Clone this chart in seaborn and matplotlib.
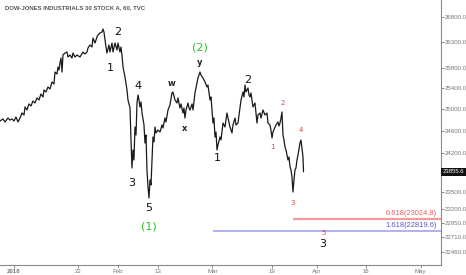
import numpy as np
import pandas as pd
import matplotlib
matplotlib.use("Agg")
import matplotlib.pyplot as plt
from matplotlib.ticker import FixedLocator, NullLocator, FuncFormatter
import seaborn as sns

# trading-day index (0 = 2 Jan 2018) and price
day = [-2.82, -2.22, -1.81, -1.21, -0.81, -0.40, 0.00, 0.40, 0.81, 1.21, 1.61, 2.02, 2.22, 2.62, 3.02,
       3.43, 3.83, 4.23, 4.64, 5.04, 5.44, 5.85, 6.05, 6.45, 6.85, 7.26, 7.66, 8.06, 8.27, 8.67,
       8.87, 9.07, 9.27, 9.48, 9.68, 9.88, 10.28, 10.68, 10.89, 11.29, 11.69, 11.89, 12.30, 12.70, 13.31,
       13.91, 14.31, 14.72, 14.92, 15.32, 15.72, 15.93, 16.33, 16.73, 16.93, 17.34, 17.74, 17.94, 18.14, 18.55,
       18.75, 19.15, 19.35, 19.76, 19.96, 20.36, 20.77, 20.97, 21.37, 21.57, 21.77, 21.98, 22.38, 22.78, 22.98,
       23.39, 23.59, 23.79, 23.99, 24.19, 24.39, 24.60, 24.80, 25.00, 25.20, 25.40, 25.61, 25.81, 26.21, 26.41,
       26.61, 26.81, 27.02, 27.22, 27.42, 27.62, 27.82, 28.02, 28.23, 28.43, 28.63, 29.03, 29.44, 29.84, 30.04,
       30.44, 30.64, 31.05, 31.45, 31.85, 32.05, 32.46, 32.86, 33.06, 33.47, 33.67, 34.07, 34.27, 34.47, 34.68,
       35.08, 35.28, 35.48, 35.89, 36.09, 36.49, 36.89, 37.09, 37.50, 37.70, 38.10, 38.51, 38.91, 39.11, 39.52,
       39.72, 40.12, 40.32, 40.52, 40.73, 40.93, 41.13, 41.53, 41.73, 42.14, 42.54, 42.94, 43.15, 43.55, 43.95,
       44.15, 44.56, 44.76, 45.16, 45.56, 45.77, 46.17, 46.37, 46.57, 46.77, 47.18, 47.38, 47.58, 47.78, 48.18,
       48.59, 48.99, 49.19, 49.60, 49.80, 50.20, 50.60, 51.01, 51.21, 51.61, 51.81, 52.02, 52.22, 52.62, 52.82,
       53.22, 53.43, 53.63, 53.83, 54.03, 54.23, 54.43, 54.64, 54.84, 55.24, 55.44, 55.65, 55.85, 56.05, 56.25,
       56.45, 56.65, 56.85, 57.06, 57.26, 57.66, 57.86, 58.06, 58.27, 58.37]
price = [24785, 24822, 24766, 24840, 24803, 24822, 24785, 24859, 24766, 24840, 24934, 24897, 25047, 24991, 25104,
         25066, 25160, 25123, 25217, 25179, 25293, 25236, 25369, 25331, 25426, 25388, 25522, 25484, 25714, 25676,
         25811, 25753, 25889, 25986, 25714, 26045, 26084, 26104, 26006, 26045, 25986, 26084, 26006, 26045, 26006,
         26104, 26065, 26104, 26182, 26242, 26202, 26380, 26281, 26400, 26440, 26480, 26500, 26559, 26500, 26202,
         26084, 26242, 26104, 26281, 26104, 26281, 26143, 26281, 26104, 26202, 26045, 25811, 25618, 25369, 25179,
         25028, 24433, 23924, 24250, 24069, 24673, 24525, 25123, 25274, 25179, 25047, 25142, 24934, 24710, 24378,
         24525, 23888, 23585, 23390, 23710, 23621, 24069, 24488, 24397, 24673, 24562, 24617, 24580, 24710, 24655,
         24840, 24766, 24991, 25085, 25312, 25331, 25179, 25123, 25217, 25028, 25104, 24934, 25028, 24840, 24991,
         25123, 25028, 24991, 25104, 24991, 25312, 25503, 25599, 25714, 25657, 25599, 25522, 25426, 25464, 25179,
         25236, 24747, 24840, 24488, 24580, 24250, 24342, 24488, 24433, 24747, 24673, 24934, 24840, 24673, 24562,
         24710, 24840, 24710, 24747, 25028, 25179, 25331, 25236, 25464, 25331, 25407, 25274, 25236, 25312, 25047,
         25123, 24747, 24897, 24934, 24840, 24991, 24897, 24934, 24747, 24710, 24617, 24470, 24580, 24673, 24710,
         24766, 24692, 24747, 24840, 24953, 24525, 24433, 24305, 24250, 24069, 24123, 23942, 23888, 23763, 23496,
         23710, 23888, 23924, 24069, 24160, 24378, 24433, 24287, 24123, 23855.6]

x_tick_pos = [0, 13, 21, 29, 40, 52, 61, 71, 82]
x_tick_labels = ["2018", "22", "Feb", "13", "Mar", "19", "Apr", "16", "May"]
y_ticks = [26800, 26300, 25800, 25400, 25000, 24600, 24200, 23500, 23200, 22950, 22710, 22460]
last_price = 23855.6

fib_values = [23024.8, 22819.6]
fib_labels = ["0.618(23024.8)", "1.618(22819.6)"]
fib_start = [56.25, 40.12]

# wave labels: (text, day, price, kind)
wave_text = ["2", "1", "4", "3", "5", "(1)", "(2)", "y", "w", "x", "1", "2",
             "1", "2", "3", "4", "5", "3"]
wave_day = [20.97, 19.35, 25.0, 23.79, 27.22, 27.22, 37.5, 37.5, 31.85, 34.47, 40.93, 47.18,
            52.02, 54.23, 56.25, 57.86, 62.5, 62.3]
wave_price = [26500, 25792, 25445, 23656, 23216, 22886, 26202, 25908, 25484, 24636, 24105, 25560,
              24305, 25123, 23303, 24617, 22783, 22596]
wave_kind = ["b", "b", "b", "b", "b", "g", "g", "s", "s", "s", "b", "b",
             "r", "r", "r", "r", "r", "b"]

sns.set_style("white")
plt.rcParams["font.family"] = ["DejaVu Sans"]
small_font = "Liberation Sans"

fig = plt.figure(figsize=(4.66, 2.75), dpi=100)
ax = fig.add_axes([0.0, 10 / 275, 441 / 466, 265 / 275])

df = pd.DataFrame({"day": day, "price": price})
sns.lineplot(data=df, x="day", y="price", ax=ax, color="#1a1a1a", linewidth=0.9, sort=False)

ax.set_yscale("log")
ax.set_xlim(-2.82, 86.09)
ax.set_ylim(22241, 27145)

# fib lines
fib_colors = ["#f39a9a", "#9c9cea"]
fib_text_colors = ["#ef5b5b", "#5555d5"]
fib_widths = [1.6, 1.1]
for v, lab, s, c, tc, w in zip(fib_values, fib_labels, fib_start, fib_colors, fib_text_colors, fib_widths):
    ax.hlines(v, s, 86.09, color=c, linewidth=w)
    ax.text(85.3, v * 1.0012, lab, color=tc, fontsize=5.4, ha="right", va="bottom",
            family=small_font)

style = {
    "b": dict(color="#111111", fontsize=8),
    "g": dict(color="#22c422", fontsize=8),
    "s": dict(color="#222222", fontsize=6, fontweight="bold"),
    "r": dict(color="#d94848", fontsize=5),
}
for t, d, p, k in zip(wave_text, wave_day, wave_price, wave_kind):
    ax.text(d, p, t, ha="center", va="center", **style[k])

# axes styling
for s in ["left", "top"]:
    ax.spines[s].set_visible(False)
for s in ["right", "bottom"]:
    ax.spines[s].set_color("#8a8a8a")
    ax.spines[s].set_linewidth(0.8)

ax.yaxis.tick_right()
ax.yaxis.set_major_locator(FixedLocator(y_ticks))
ax.yaxis.set_minor_locator(NullLocator())
ax.yaxis.set_major_formatter(FuncFormatter(lambda v, p: f"{v:.1f}"))
ax.set_xticks(x_tick_pos)
ax.set_xticklabels(x_tick_labels)
ax.tick_params(axis="both", labelsize=4.4, colors="#777777", length=2, width=0.6, pad=1)
ax.tick_params(axis="x", pad=0.8)
ax.tick_params(axis="y", right=True, left=False)
ax.tick_params(axis="x", bottom=True)
for lab in ax.get_xticklabels() + ax.get_yticklabels():
    lab.set_family(small_font)
ax.get_xticklabels()[0].set_fontweight("bold")
ax.set_xlabel("")
ax.set_ylabel("")
ax.grid(False)

# last price tag
ax.text(1.004, last_price, f"{last_price:.1f}", transform=ax.get_yaxis_transform(),
        ha="left", va="center", fontsize=4.3, color="white", family=small_font,
        bbox=dict(boxstyle="square,pad=0.3", facecolor="#111111", edgecolor="none"))

fig.text(5 / 466, 1 - 8 / 275, "DOW-JONES INDUSTRIALS 30 STOCK A, 60, TVC",
         fontsize=4.3, color="#555555", fontweight="bold", ha="left", va="center",
         family=small_font)

fig.savefig("out.png", dpi=100)
